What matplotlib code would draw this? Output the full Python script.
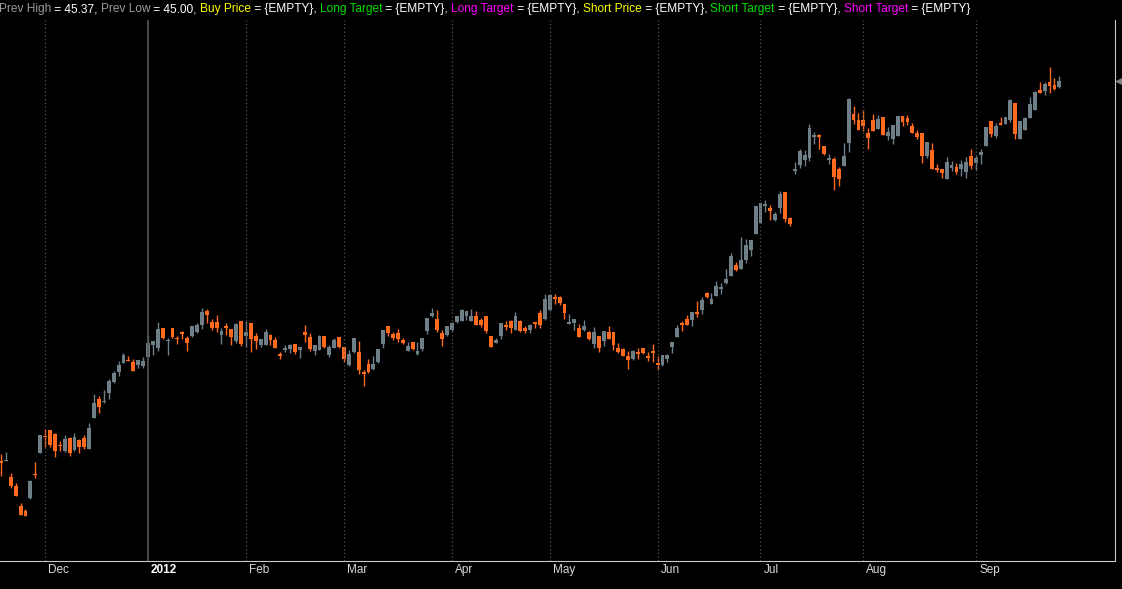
import matplotlib
matplotlib.use("Agg")
import matplotlib.pyplot as plt
import numpy as np

# Each bar: direction ('g' up / 'o' down), body top, body bottom, wick top, wick bottom
# in chart units (price level = 600 - reading)
bars = [
('o',461,463,454,476),('g',460,461,452,461),('o',477,486,473,488),('o',486,496,483,496),
('o',506,515,503,515),('o',511,516,509,516),('g',481,498,480,499),('o',474,475,462,478),
('g',435,453,435,453),('o',436,437,429,447),('o',430,445,430,447),('o',434,451,433,457),
('o',445,446,441,451),('g',439,451,435,452),('o',438,453,437,456),('g',437,450,433,451),
('o',440,447,439,453),('o',438,447,435,449),('g',428,449,423,449),('g',403,418,394,418),
('o',399,407,396,413),('g',401,402,390,403),('g',381,393,379,399),('g',373,382,371,383),
('g',365,372,361,376),('g',355,363,353,363),('o',360,361,356,361),('o',362,371,359,371),
('g',360,365,360,368),('g',361,366,357,368),('g',343,357,335,357),('g',341,345,341,355),
('g',329,348,322,351),('o',328,338,328,339),('g',340,341,338,355),('o',328,337,328,338),
('o',338,339,336,344),('o',332,334,331,339),('o',338,343,336,351),('g',326,336,326,337),
('g',325,332,323,333),('g',312,325,308,329),('o',311,315,309,323),('o',322,328,319,330),
('o',322,328,315,332),('g',331,335,328,344),('o',326,328,323,335),('o',329,337,329,345),
('g',324,341,323,343),('o',321,344,321,346),('g',332,336,321,347),('o',323,339,323,352),
('o',336,341,333,349),('g',339,345,339,347),('g',332,345,329,345),('o',335,340,334,345),
('o',340,348,337,348),('o',354,356,352,359),('g',348,350,345,352),('g',345,349,344,353),
('o',344,352,344,354),('g',347,350,347,358),('o',332,335,325,342),('o',337,349,333,351),
('g',345,351,345,355),('g',336,350,335,350),('o',336,347,336,348),('g',347,355,345,357),
('g',340,348,338,348),('o',337,347,337,348),('o',347,359,347,362),('g',354,365,350,366),
('g',338,352,338,353),('o',352,370,341,374),('o',372,374,370,386),('o',364,372,359,373),
('g',364,369,356,370),('g',349,362,349,363),('g',330,344,330,348),('o',326,333,326,336),
('o',334,338,332,340),('o',333,339,329,342),('o',340,343,338,344),('g',346,351,342,351),
('o',342,349,342,350),('g',351,354,342,355),('g',338,349,338,351),('g',318,331,318,334),
('g',313,316,308,317),('o',319,330,310,332),('o',333,339,330,346),('g',326,335,326,336),
('g',323,330,322,331),('g',316,322,316,323),('g',310,321,309,321),('g',311,316,311,320),
('g',316,321,309,321),('o',316,325,311,325),('o',320,325,318,327),('o',316,331,316,333),
('o',336,347,336,347),('g',340,343,338,343),('g',323,336,323,339),('o',325,327,321,330),
('o',321,328,320,333),('g',316,330,312,330),('o',321,331,320,332),('o',328,331,326,333),
('g',325,330,324,333),('o',322,324,322,328),('o',313,325,310,328),('g',299,319,294,320),
('g',295,310,294,311),('o',297,299,294,304),('o',297,303,296,305),('o',304,313,304,319),
('g',322,324,314,324),('g',319,323,319,330),('o',328,337,324,337),('g',326,330,320,331),
('o',332,339,331,340),('g',332,344,327,348),('o',336,348,336,352),('g',331,341,331,346),
('o',332,339,326,339),('o',332,345,332,350),('o',348,352,343,353),('o',349,356,348,356),
('o',356,360,351,369),('g',351,359,350,360),('o',352,354,348,359),('o',348,353,348,354),
('o',356,358,352,361),('o',351,353,344,362),('o',363,365,356,370),('g',355,365,355,366),
('g',355,359,354,362),('g',342,347,342,353),('g',328,337,325,337),('o',323,325,321,331),
('o',319,325,315,325),('g',312,320,312,326),('o',312,314,301,317),('g',300,310,297,314),
('o',293,297,292,298),('g',299,304,293,304),('g',286,296,281,296),('g',287,289,283,294),
('g',279,283,269,284),('g',256,276,253,276),('o',265,270,262,271),('g',260,269,237,269),
('g',245,260,239,263),('g',240,250,240,256),('g',206,234,206,234),('g',203,223,203,223),
('g',204,206,200,212),('o',208,211,205,220),('g',214,220,212,221),('g',194,208,191,213),
('o',192,219,192,222),('o',218,224,217,226),('g',169,171,162,174),('g',151,165,149,168),
('g',155,160,150,166),('g',128,158,124,161),('g',135,137,132,144),('o',135,137,134,149),
('o',146,154,146,155),('g',158,160,154,164),('o',159,177,157,190),('o',169,179,167,186),
('g',156,166,143,166),('g',99,143,98,152),('o',114,120,106,124),('o',120,130,113,130),
('o',120,126,110,131),('o',133,138,128,149),('o',120,131,114,131),('g',119,129,115,129),
('o',117,135,117,135),('g',132,136,127,140),('g',125,139,125,144),('g',116,136,116,136),
('o',116,122,116,126),('o',118,122,115,125),('o',126,133,123,133),('o',133,137,130,139),
('o',133,156,133,163),('g',142,156,142,158),('o',150,169,143,169),('o',168,170,164,172),
('o',169,173,169,178),('g',162,179,157,179),('g',165,168,161,171),('o',167,172,163,174),
('g',164,169,160,176),('g',162,172,157,178),('o',156,166,149,169),('g',158,163,155,170),
('g',152,155,149,164),('g',127,146,127,146),('o',121,134,121,137),('g',126,136,123,138),
('o',123,125,117,125),('g',117,124,117,124),('g',100,120,99,122),('o',103,134,103,139),
('g',121,139,121,139),('g',118,130,117,130),('g',104,118,97,118),('g',92,110,91,110),
('o',90,93,82,93),('g',84,91,82,95),('o',82,86,67,93),('o',85,89,78,90),('g',81,87,76,88),
]

directions = [b[0] for b in bars]
opens = [600 - (b[2] if b[0] == 'g' else b[1]) for b in bars]
closes = [600 - (b[1] if b[0] == 'g' else b[2]) for b in bars]
highs = [600 - b[3] for b in bars]
lows = [600 - b[4] for b in bars]

month_labels = ["Dec", "2012", "Feb", "Mar", "Apr", "May", "Jun", "Jul", "Aug", "Sep"]
month_start = [9, 30, 50, 70, 92, 112, 134, 155, 176, 199]

UP = "#6f7f88"
DOWN = "#ff6a1f"
BG = "#000000"

fig = plt.figure(figsize=(11.22, 5.89), dpi=100, facecolor=BG)
ax = fig.add_axes([0, 1 - 561/589, 1115/1122, (561-20)/589])
ax.set_facecolor(BG)
n = len(bars)
xs = np.arange(n)
for i in range(n):
    c = UP if directions[i] == 'g' else DOWN
    lo_b, hi_b = min(opens[i], closes[i]), max(opens[i], closes[i])
    ax.vlines(xs[i], lows[i], highs[i], color=c, lw=1)
    h = max(hi_b - lo_b, 1.0)
    ax.bar(xs[i], h, bottom=lo_b, width=0.78, color=c, edgecolor=c, linewidth=0)

for lab, ms in zip(month_labels, month_start):
    if lab == "2012":
        ax.axvline(ms, color="#555555", lw=1.2)
    else:
        ax.axvline(ms, color="#555555", lw=0.9, ls=(0, (1, 2)))
    fig.text((1 + 4.9*ms + 3) / 1122, 1 - 570/589, lab, color="#d8d8d8" if lab != "2012" else "#ffffff",
             fontsize=8.5, fontweight="bold" if lab == "2012" else "normal",
             ha="left", va="center", family="Liberation Sans")

ax.set_xlim(-0.204, 227.35)
ax.set_ylim(39, 580)
ax.set_xticks([])
ax.set_yticks([])
for s in ["top", "left"]:
    ax.spines[s].set_visible(False)
ax.spines["bottom"].set_color("#c8c8c8")
ax.spines["right"].set_color("#c8c8c8")
ax.spines["bottom"].set_linewidth(0.8)
ax.spines["right"].set_linewidth(0.8)

# last value marker on right edge
ax.plot([1.005], [600 - 81], marker="<", color="#808080", markersize=7,
        transform=ax.get_yaxis_transform(), clip_on=False)

# header
parts = [("Prev High", "#9a9a9a"), (" = 45.37, ", "#ffffff"), ("Prev Low", "#9a9a9a"), (" = 45.00, ", "#ffffff"),
         ("Buy Price", "#ffff00"), (" = {EMPTY}, ", "#ffffff"), ("Long Target", "#00e000"), (" = {EMPTY}, ", "#ffffff"),
         ("Long Target", "#ff00ff"), (" = {EMPTY}, ", "#ffffff"), ("Short Price", "#ffff00"), (" = {EMPTY}, ", "#ffffff"),
         ("Short Target", "#00e000"), (" = {EMPTY}, ", "#ffffff"), ("Short Target", "#ff00ff"), (" = {EMPTY}", "#ffffff")]
fig.canvas.draw()
r = fig.canvas.get_renderer()
x = -1
for t, c in parts:
    tx = fig.text(x / 1122, 1 - 9/589, t, color=c, fontsize=8.55, ha="left", va="center",
                  family="Liberation Sans")
    w = tx.get_window_extent(renderer=r).width
    x += w

fig.savefig("out.png", dpi=100, facecolor=BG)
